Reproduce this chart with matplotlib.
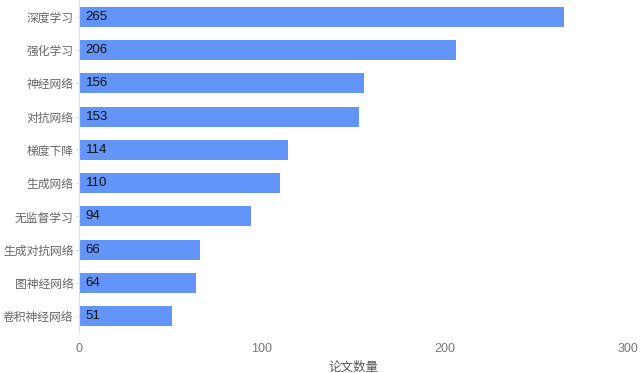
import matplotlib
matplotlib.use("Agg")
import matplotlib.pyplot as plt

plt.rcParams['font.family'] = ['Noto Sans CJK SC', 'DejaVu Sans']

# données
categories = ["深度学习", "强化学习", "神经网络", "对抗网络", "梯度下降",
              "生成网络", "无监督学习", "生成对抗网络", "图神经网络", "卷积神经网络"]
counts = [265, 206, 156, 153, 114, 110, 94, 66, 64, 51]
xticks = [0, 100, 200, 300]

fig = plt.figure(figsize=(6.4, 3.73), dpi=100)
ax = fig.add_axes([79 / 640, 40 / 373, 549 / 640, 333 / 373])

y = list(range(len(categories)))
ax.barh(y, counts, height=0.6, color="#6394f8", zorder=2)
for yi, v in zip(y, counts):
    ax.text(6.5 * 300 / 549, yi, str(v), va="center", ha="left",
            fontsize=9.5, color="#111111", family="Liberation Sans", zorder=3)

ax.set_ylim(len(categories) - 0.5, -0.5)
ax.set_xlim(0, 300)
ax.set_yticks(y)
ax.set_yticklabels(categories, fontsize=8.5, color="#666666")
ax.set_xticks(xticks)
ax.set_xticklabels([str(t) for t in xticks], fontsize=9, color="#777777",
                   family="Liberation Sans")
ax.tick_params(axis="y", length=2, color="#dddddd", pad=2)
ax.tick_params(axis="x", length=0, pad=7)
ax.set_xlabel("论文数量", fontsize=9, color="#555555", labelpad=4)

for s in ["top", "right", "bottom"]:
    ax.spines[s].set_visible(False)
ax.spines["left"].set_color("#dddddd")

fig.savefig("out.png", dpi=100)
